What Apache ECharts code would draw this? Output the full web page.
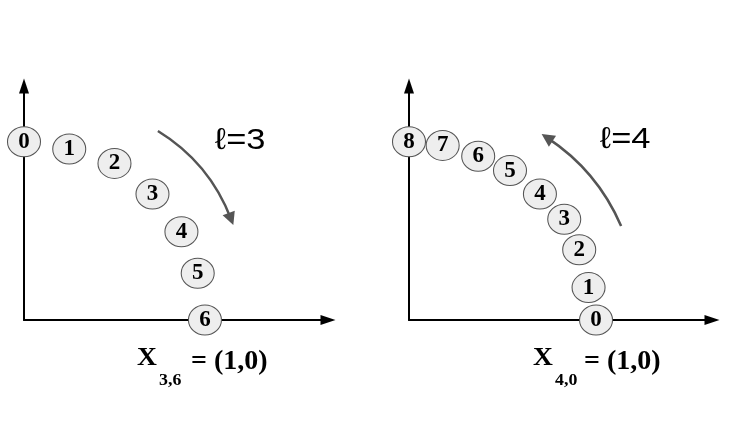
<!DOCTYPE html>
<html>
<head>
<meta charset="utf-8">
<script src="https://cdn.jsdelivr.net/npm/echarts@6/dist/echarts.min.js"></script>
<style>
html,body{margin:0;padding:0;background:#fff;}
#chart{width:752px;height:426px;}
</style>
</head>
<body>
<div id="chart"></div>
<script>
// Left panel (l = 3): point positions
const leftLabels = ['0', '1', '2', '3', '4', '5', '6'];
const leftX = [0, 0.25, 0.50, 0.71, 0.87, 0.96, 1.0];
const leftY = [0.99, 0.95, 0.87, 0.70, 0.49, 0.26, 0];
// Right panel (l = 4)
const rightLabels = ['0', '1', '2', '3', '4', '5', '6', '7', '8'];
const rightX = [1.0, 0.96, 0.91, 0.83, 0.70, 0.54, 0.37, 0.18, 0];
const rightY = [0, 0.18, 0.39, 0.56, 0.70, 0.83, 0.91, 0.97, 0.99];
// Curved arrows (start, end) in data units
const leftArrow = [[0.74, 1.05], [1.144, 0.561]];
const rightArrow = [[1.134, 0.522], [0.738, 1.013]];
// Texts
const leftTitle = 'ℓ=3';
const rightTitle = 'ℓ=4';
const leftSub = '3,6';
const rightSub = '4,0';
const valueText = '= (1,0)';

const chart = echarts.init(document.getElementById('chart'), null, {renderer: 'canvas'});

function axis(max, gridIndex) {
  return {
    type: 'value', gridIndex: gridIndex, min: 0, max: max,
    axisLine: {show: true, onZero: false, symbol: ['none', 'triangle'], symbolSize: [10, 15],
      lineStyle: {color: '#000', width: 2}},
    axisTick: {show: false}, axisLabel: {show: false}, splitLine: {show: false}
  };
}

const circleStyle = {
  type: 'scatter', symbol: 'circle', symbolSize: [33, 30], clip: false, z: 5,
  itemStyle: {color: '#eeeeee', borderColor: '#555', borderWidth: 1, opacity: 1},
  label: {show: true, position: 'inside', formatter: p => p.data[2],
    fontFamily: 'Liberation Serif', fontWeight: 'bold', fontSize: 23, color: '#000'},
  emphasis: {disabled: true}
};

const arrowStyle = {
  type: 'lines', coordinateSystem: 'cartesian2d', symbol: ['none', 'triangle'], symbolSize: 13,
  z: 4, silent: true
};

function txt(x, y, text, font, sx) {
  return {type: 'text', x: x, y: y, scaleX: sx, originX: 0,
    style: {text: text, font: font, fill: '#000', verticalAlign: 'middle'}};
}

chart.setOption({
  animation: false,
  backgroundColor: '#fff',
  grid: [
    {left: 24, top: 86, width: 304, height: 234},
    {left: 409, top: 86, width: 303, height: 234}
  ],
  xAxis: [axis(1.68, 0), axis(1.62, 1)],
  yAxis: [axis(1.3, 0), axis(1.3, 1)],
  series: [
    Object.assign({}, circleStyle, {xAxisIndex: 0, yAxisIndex: 0,
      data: leftX.map((x, i) => [x, leftY[i], leftLabels[i]])}),
    Object.assign({}, circleStyle, {xAxisIndex: 1, yAxisIndex: 1,
      data: rightX.map((x, i) => [x, rightY[i], rightLabels[i]])}),
    Object.assign({}, arrowStyle, {xAxisIndex: 0, yAxisIndex: 0,
      lineStyle: {color: '#555', width: 2.5, curveness: 0.17, opacity: 1},
      data: [{coords: leftArrow}]}),
    Object.assign({}, arrowStyle, {xAxisIndex: 1, yAxisIndex: 1,
      lineStyle: {color: '#555', width: 2.5, curveness: -0.15, opacity: 1},
      data: [{coords: rightArrow}]})
  ],
  graphic: [
    txt(215, 141, leftTitle, '30px "Liberation Sans"', 1.15),
    txt(600, 140, rightTitle, '30px "Liberation Sans"', 1.15),
    txt(137, 359, 'X', 'bold 25px "Liberation Serif"', 1.1),
    txt(159, 381, leftSub, 'bold 17px "Liberation Serif"', 1.05),
    txt(191, 361.5, valueText, 'bold 28px "Liberation Serif"', 1.0),
    txt(533, 359, 'X', 'bold 25px "Liberation Serif"', 1.1),
    txt(555, 381, rightSub, 'bold 17px "Liberation Serif"', 1.05),
    txt(584, 361.5, valueText, 'bold 28px "Liberation Serif"', 1.0)
  ]
});
</script>
</body>
</html>
